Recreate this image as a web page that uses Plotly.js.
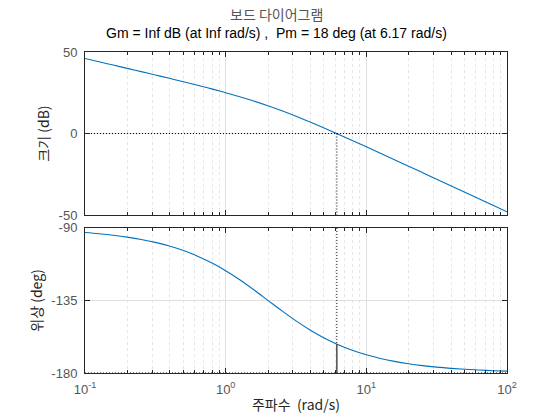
<!DOCTYPE html>
<html>
<head>
<meta charset="utf-8">
<script src="https://cdn.plot.ly/plotly-3.0.1.min.js"></script>
<style>
  html, body { margin: 0; padding: 0; background: #fff; }
  #chart { width: 560px; height: 420px; }
</style>
</head>
<body>
<div id="chart"></div>
<script>
// Bode data for the open loop (rad/s, dB, deg)
const freq = [0.1, 0.1259, 0.1585, 0.1995, 0.2512, 0.3162, 0.3981, 0.5012, 0.631, 0.7943,
  1, 1.259, 1.585, 1.995, 2.512, 3.162, 3.981, 5.012, 6.31, 7.943,
  10, 12.59, 15.85, 19.95, 25.12, 31.62, 39.81, 50.12, 63.1, 79.43, 100];
const magDb = [46.01, 44.0, 41.99, 39.98, 37.95, 35.91, 33.85, 31.76, 29.61, 27.38,
  25.05, 22.57, 19.9, 17.02, 13.91, 10.58, 7.06, 3.4, -0.38, -4.23,
  -8.13, -12.07, -16.03, -20.0, -23.99, -27.98, -31.97, -35.97, -39.96, -43.96, -47.96];
const phaseDeg = [-92.86, -93.6, -94.53, -95.7, -97.16, -98.99, -101.26, -104.07, -107.51, -111.66,
  -116.57, -122.19, -128.4, -134.93, -141.47, -147.69, -153.32, -158.25, -162.41, -165.87,
  -168.69, -170.97, -172.81, -174.28, -175.45, -176.38, -177.12, -177.71, -178.18, -178.56, -178.85];

// margins
const gainMarginDb = "Inf";
const phaseMargin = 18;        // deg
const crossoverFreq = 6.17;    // rad/s

const xRange = [0.1, 100];
const magRange = [-50, 50];
const phaseRange = [-180, -90];
const magTicks = [-50, 0, 50];
const magLabels = ["-50", "0", "50"];
const phaseTicks = [-180, -135, -90];
const phaseLabels = ["-180", "-135", "-90"];
const decadeTicks = [0.1, 1, 10, 100];
const decadeLabels = ["10<sup>-1</sup>", "10<sup>0</sup>", "10<sup>1</sup>", "10<sup>2</sup>"];
const minorTicks = [0.2, 0.3, 0.4, 0.5, 0.6, 0.7, 0.8, 0.9,
  2, 3, 4, 5, 6, 7, 8, 9, 20, 30, 40, 50, 60, 70, 80, 90];

const BLUE = "#0072bd";
const AXC = "#262626";
const LBL = "#555555";
const FONT = "'Liberation Sans', Arial, 'Noto Sans CJK KR', sans-serif";
const KFONT = "'Noto Sans CJK KR', 'Liberation Sans', sans-serif";

const pmPhase = -180 + phaseMargin;

const traces = [
  { x: freq, y: magDb, xaxis: "x", yaxis: "y", type: "scatter", mode: "lines",
    line: { color: BLUE, width: 1.1, shape: "spline" }, hoverinfo: "skip" },
  { x: xRange, y: [0, 0], xaxis: "x", yaxis: "y", mode: "lines",
    line: { color: "#000", width: 1, dash: "1px,2px" }, hoverinfo: "skip" },
  { x: [crossoverFreq, crossoverFreq], y: [0, magRange[0]], xaxis: "x", yaxis: "y", mode: "lines",
    line: { color: "#000", width: 1, dash: "1px,2px" }, hoverinfo: "skip" },
  { x: freq, y: phaseDeg, xaxis: "x2", yaxis: "y2", type: "scatter", mode: "lines",
    line: { color: BLUE, width: 1.1, shape: "spline" }, hoverinfo: "skip" },
  { x: xRange, y: [-180, -180], xaxis: "x2", yaxis: "y2", mode: "lines",
    line: { color: "#000", width: 1, dash: "1px,2px" }, hoverinfo: "skip" },
  { x: [crossoverFreq, crossoverFreq], y: [phaseRange[1], pmPhase], xaxis: "x2", yaxis: "y2", mode: "lines",
    line: { color: "#000", width: 1, dash: "1px,2px" }, hoverinfo: "skip" },
  { x: [crossoverFreq, crossoverFreq], y: [pmPhase, -180], xaxis: "x2", yaxis: "y2", mode: "lines",
    line: { color: "#4d4d4d", width: 1.5 }, hoverinfo: "skip" },
];

function xAxis(showLabels, anchor) {
  return {
    type: "log",
    range: [Math.log10(xRange[0]), Math.log10(xRange[1])],
    anchor,
    tickmode: "array",
    tickvals: decadeTicks,
    ticktext: decadeLabels,
    showticklabels: showLabels,
    ticklabelstandoff: 4,
    ticks: "inside",
    ticklen: 5,
    tickcolor: AXC,
    showline: true,
    linecolor: AXC,
    linewidth: 1,
    mirror: "ticks",
    showgrid: true,
    gridcolor: "#e0e0e0",
    gridwidth: 1,
    zeroline: false,
    tickfont: { family: FONT, size: 13, color: LBL },
    minor: {
      tickmode: "array",
      tickvals: minorTicks,
      ticks: "inside",
      ticklen: 3,
      tickcolor: AXC,
      showgrid: true,
      gridcolor: "#e6e6e6",
      griddash: "3px,3px",
      gridwidth: 1,
    },
  };
}

function yAxis(range, ticks, labels, title, domain, anchor) {
  return {
    range,
    domain,
    anchor,
    tickmode: "array",
    tickvals: ticks,
    ticktext: labels,
    ticklabelstandoff: 4,
    ticks: "inside",
    ticklen: 5,
    tickcolor: AXC,
    showline: true,
    linecolor: AXC,
    linewidth: 1,
    mirror: "ticks",
    showgrid: true,
    gridcolor: "#e0e0e0",
    zeroline: false,
    tickfont: { family: FONT, size: 13, color: LBL },
    title: { text: title, font: { family: KFONT, size: 14, color: AXC }, standoff: 5 },
  };
}

const layout = {
  width: 560,
  height: 420,
  paper_bgcolor: "#fff",
  plot_bgcolor: "#fff",
  showlegend: false,
  margin: { l: 85, r: 53, t: 52, b: 47 },
  xaxis: Object.assign(xAxis(false, "y"), { domain: [0, 1] }),
  yaxis: yAxis(magRange, magTicks, magLabels, "크기 (dB)", [0.492, 1], "x"),
  xaxis2: Object.assign(xAxis(true, "y2"), {
    domain: [0, 1],
    title: { text: "주파수  (rad/s)", font: { family: KFONT, size: 14, color: AXC }, standoff: 4 },
  }),
  yaxis2: yAxis(phaseRange, phaseTicks, phaseLabels, "위상 (deg)", [0, 0.452], "x2"),
  annotations: [
    {
      xref: "paper", yref: "paper", x: 0.453, y: 1.118, xanchor: "center", yanchor: "middle",
      text: "보드 다이어그램", showarrow: false,
      font: { family: KFONT, size: 14, color: "#555" },
    },
    {
      xref: "paper", yref: "paper", x: 0.453, y: 1.059, xanchor: "center", yanchor: "middle",
      text: `Gm = ${gainMarginDb} dB (at Inf rad/s) ,  Pm = ${phaseMargin} deg (at ${crossoverFreq} rad/s)`,
      showarrow: false,
      font: { family: FONT, size: 14, color: "#000" },
    },
  ],
};

Plotly.newPlot("chart", traces, layout, { staticPlot: true, displayModeBar: false });
</script>
</body>
</html>
